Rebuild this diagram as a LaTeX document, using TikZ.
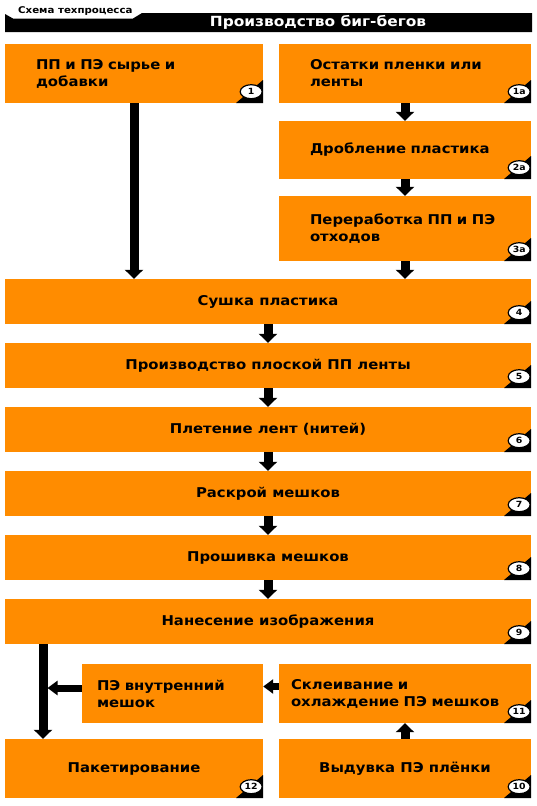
\documentclass[tikz,border=0pt]{standalone}
\usepackage{fontspec}
\setmainfont{DejaVu Sans}[FakeStretch=1.1]
\usetikzlibrary{positioning,arrows.meta,calc,shapes.geometric}
\definecolor{boxorange}{RGB}{255,140,0}
\tikzset{
    x=1pt,
    y=-1pt,
    box/.style = {
        fill=boxorange,
        inner sep=0pt,
        font=\fontsize{13.5}{17}\selectfont\bfseries
    },
    num/.style = {
        draw,
        fill=white,
        line width=1.2pt,
        shape=ellipse,
        minimum width=22pt,
        minimum height=14pt,
        inner sep=0pt,
        anchor=center,
        xshift=-12pt,
        yshift=11.5pt,
        font=\fontsize{8.5}{9}\selectfont\bfseries
    },
    nr/.style = {
        path picture={\fill[black] (path picture bounding box.south east) -- ++(-27pt,0pt) -- ++(27pt,23pt) -- cycle;},
        label={[num]south east:#1}
    },
    flow/.style = {
        draw,
        line width=9pt,
        ->
    },
    side/.style = {
        draw,
        line width=7pt,
        -{Triangle[width=14pt,length=10pt]}
    },
    >={Triangle[width=18pt,length=9pt]},
}

\begin{document}
\begin{tikzpicture}
            \useasboundingbox (0,0) rectangle (536,806);

            % header
            \path[fill=black] (5,14) -- (13,18.5) -- (133,18.5) -- (142,13) -- (532,13) -- (532,32) -- (5,32) -- cycle;
            \node[anchor=west, inner sep=0pt, font=\fontsize{9.3}{10}\selectfont\bfseries] (tab) at (18,11) {Схема техпроцесса};
            \node[inner sep=0pt, text=white, font=\fontsize{14}{15}\selectfont\bfseries] (title) at (318,22) {Производство биг-бегов};

            \node[box, nr=1, minimum width=258pt, minimum height=59pt, text width=196pt, align=left] (raw) at (134,73.5) {ПП и ПЭ сырье и\\добавки};
            \node[box, nr=1a, minimum width=252pt, minimum height=59pt, text width=190pt, align=left] (scrap) at (405,73.5) {Остатки пленки или\\ленты};
            \node[box, nr=2a, minimum width=252pt, minimum height=58pt, text width=190pt, align=left] (crush) at (405,150) {Дробление пластика};
            \node[box, nr=3a, minimum width=252pt, minimum height=65pt, text width=190pt, align=left] (recycle) at (405,228.5) {Переработка ПП и ПЭ\\отходов};
            \node[box, nr=4, minimum width=526pt, minimum height=45pt] (dry) at (268,301.5) {Сушка пластика};
            \node[box, nr=5, minimum width=526pt, minimum height=45pt] (tape) at (268,365.5) {Производство плоской ПП ленты};
            \node[box, nr=6, minimum width=526pt, minimum height=45pt] (weave) at (268,429.5) {Плетение лент (нитей)};
            \node[box, nr=7, minimum width=526pt, minimum height=45pt] (cut) at (268,493.5) {Раскрой мешков};
            \node[box, nr=8, minimum width=526pt, minimum height=45pt] (sew) at (268,557.5) {Прошивка мешков};
            \node[box, nr=9, minimum width=526pt, minimum height=45pt] (image) at (268,621.5) {Нанесение изображения};
            \node[box, minimum width=181pt, minimum height=59pt, text width=151pt, align=left] (liner) at (172.5,693.5) {ПЭ внутренний\\мешок};
            \node[box, nr=11, minimum width=252pt, minimum height=59pt, text width=228pt, align=left] (glue) at (405,693.5) {Склеивание и\\охлаждение ПЭ мешков};
            \node[box, nr=12, minimum width=258pt, minimum height=59pt] (pack) at (134,768.5) {Пакетирование};
            \node[box, nr=10, minimum width=252pt, minimum height=59pt] (blow) at (405,768.5) {Выдувка ПЭ плёнки};

            \coordinate (bus) at (43,0);

            \path[flow] (raw.south) -- (raw.south |- dry.north);
            \path[flow] (scrap.south) -- (crush.north);
            \path[flow] (crush.south) -- (recycle.north);
            \path[flow] (recycle.south) -- (recycle.south |- dry.north);
            \path[flow] (dry.south) -- (tape.north);
            \path[flow] (tape.south) -- (weave.north);
            \path[flow] (weave.south) -- (cut.north);
            \path[flow] (cut.south) -- (sew.north);
            \path[flow] (sew.south) -- (image.north);
            \path[flow] (bus |- image.south) -- (bus |- pack.north);
            \path[side] ([yshift=5.5pt]liner.west) -- ($([yshift=5.5pt]liner.west -| bus)+(4.5,0)$);
            \path[side] ([yshift=7pt]glue.west) -- ([yshift=7pt]liner.east);
            \path[flow] (blow.north) -- (glue.south);
        \end{tikzpicture}
\end{document}
